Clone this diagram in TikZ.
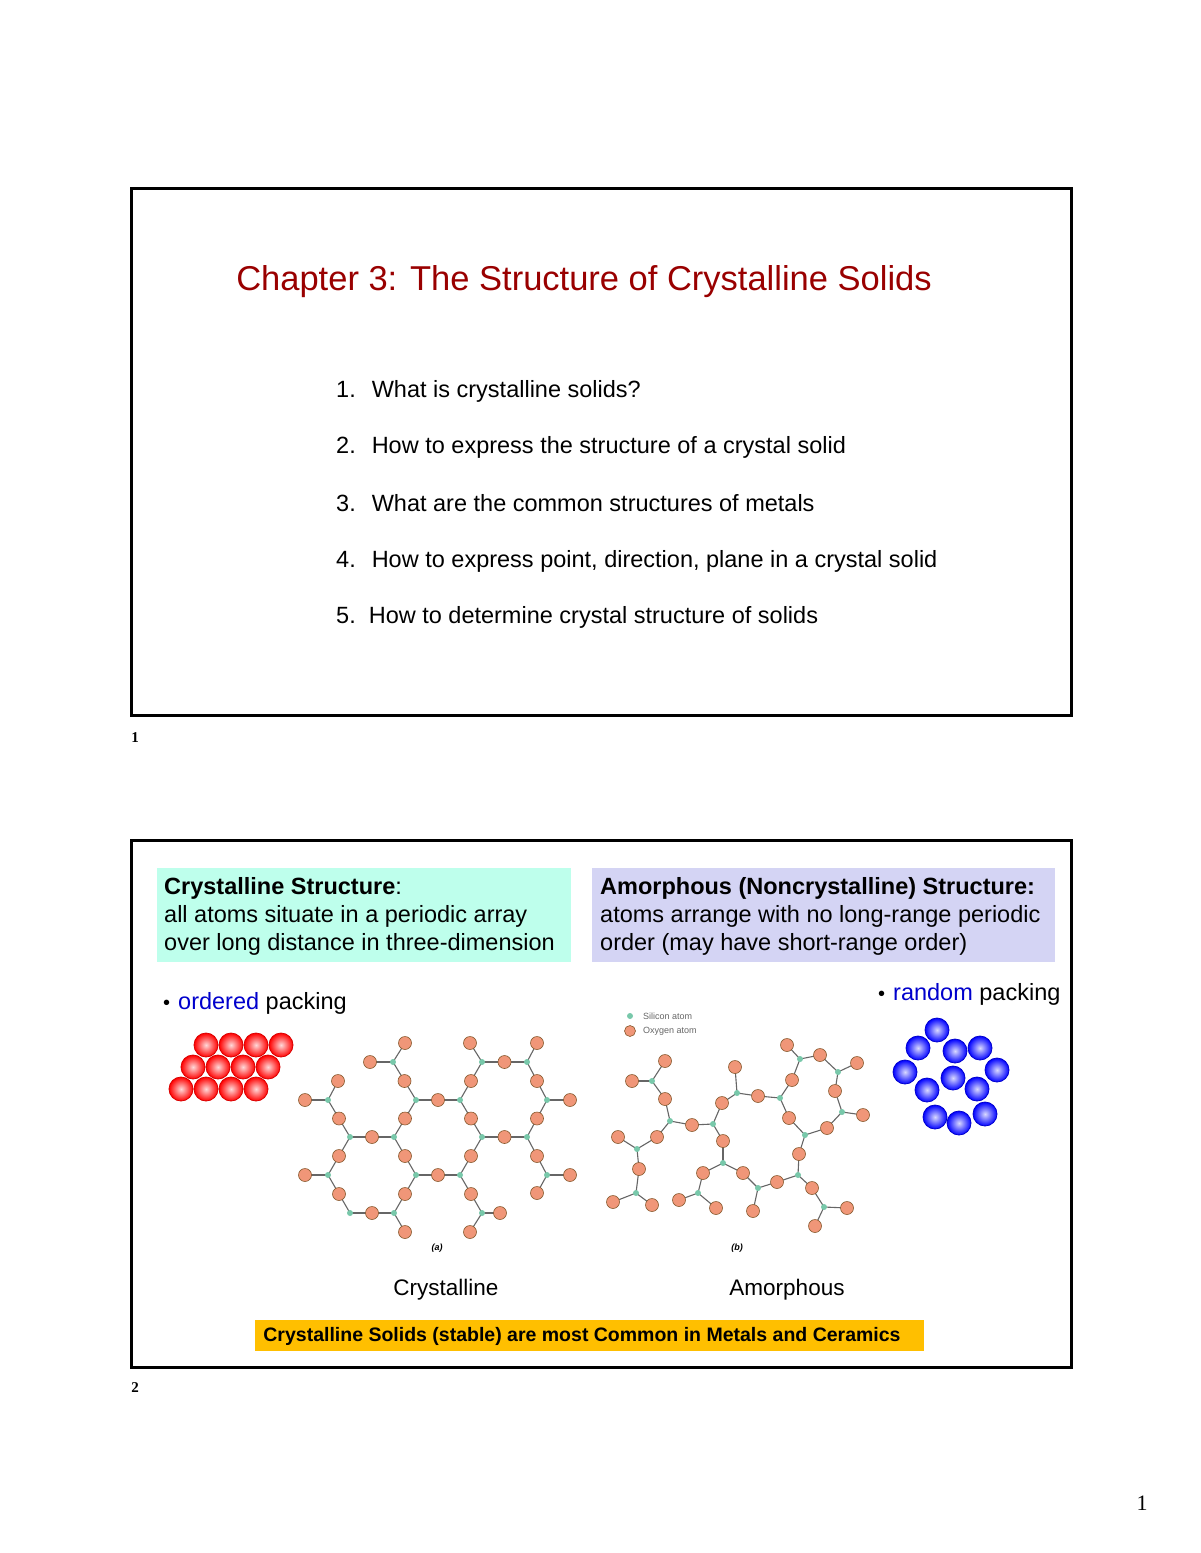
\documentclass[tikz,border=0pt]{standalone}
\usetikzlibrary{calc}
\usepackage{fontspec}
\setmainfont{Liberation Sans}
\newfontfamily\serifnum{Liberation Serif}
\definecolor{mint}{RGB}{190,255,236}
\definecolor{lav}{RGB}{212,212,244}
\definecolor{sicol}{RGB}{120,200,170}
\definecolor{oxcol}{RGB}{240,150,120}
\begin{document}
\begin{tikzpicture}[x=1pt,y=-1pt,
  frame/.style={draw=black,line width=2.6pt},
  txt/.style={anchor=west,inner sep=0pt,font=\fontsize{23.5}{26}\selectfont},
  si/.style={circle,fill=sicol,inner sep=0pt,minimum size=6pt},
  ox/.style={circle,draw=brown!70!black,fill=oxcol,line width=0.6pt,inner sep=0pt,minimum size=13pt},
  bond/.style={draw=black!60,line width=1.1pt},
  rball/.style={circle,shading=radial,inner color=red!15!white,outer color=red,draw=red!85!black,line width=0.8pt,inner sep=0pt,minimum size=24pt},
  bball/.style={circle,shading=radial,inner color=blue!15!white,outer color=blue,draw=blue!80!black,line width=0.8pt,inner sep=0pt,minimum size=24pt}]
\useasboundingbox (0,0) rectangle (1200,1553);
% slide 1
\node[frame,minimum width=940pt,minimum height=527pt,anchor=north west] (s1) at (130,187) {};
\node[font=\fontsize{34.5}{38}\selectfont,text=red!60!black] (title) at (584,282) {Chapter 3: The Structure of Crystalline Solids};
\node[txt] (n1) at (336,391) {1.\hspace{16pt}What is crystalline solids?};
\node[txt] (n2) at (336,447) {2.\hspace{16pt}How to express the structure of a crystal solid};
\node[txt] (n3) at (336,503) {3.\hspace{16pt}What are the common structures of metals};
\node[txt] (n4) at (336,561) {4.\hspace{16pt}How to express point, direction, plane in a crystal solid};
\node[txt] (n5) at (336,617) {5.\hspace{13pt}How to determine crystal structure of solids};
\node[font=\serifnum\bfseries\fontsize{15}{17}\selectfont] (p1) at (135,738) {1};
% slide 2
\node[frame,minimum width=940pt,minimum height=527pt,anchor=north west] (s2) at (130,839) {};
\node[fill=mint,minimum width=414pt,minimum height=94pt,anchor=north west] (cb) at (157,868) {};
\node[fill=lav,minimum width=463pt,minimum height=94pt,anchor=north west] (ab) at (592,868) {};
\node[txt] (c1) at (164,888) {\textbf{Crystalline Structure}:};
\node[txt] (c2) at (164,916) {all atoms situate in a periodic array};
\node[txt] (c3) at (164,944) {over long distance in three-dimension};
\node[txt] (a1) at (600,888) {\textbf{Amorphous (Noncrystalline) Structure:}};
\node[txt] (a2) at (600,916) {atoms arrange with no long-range periodic};
\node[txt] (a3) at (600,944) {order (may have short-range order)};
\node[txt] (b1) at (163,1003) {{\fontsize{20}{20}\selectfont\textbullet}\hspace{8pt}\textcolor{blue!80!black}{ordered} packing};
\node[txt] (b2) at (878,994) {{\fontsize{20}{20}\selectfont\textbullet}\hspace{8pt}\textcolor{blue!80!black}{random} packing};
% red balls
\foreach \x/\y [count=\i] in {206/1045,231/1045,256/1045,281/1045,193/1067,218/1067,243/1067,268/1067,181/1089,206/1089,231/1089,256/1089}
  \node[rball] (r\i) at (\x,\y) {};
% blue balls
\foreach \x/\y [count=\i] in {937/1030,918/1048,955/1051,980/1048,905/1072,953/1078,997/1070,927/1090,977/1089,935/1117,959/1123,985/1114}
  \node[bball] (bl\i) at (\x,\y) {};
% crystalline network
\foreach \n/\x/\y in {a/393/1062,b/482/1062,c/527/1062,d/328/1100,e/416/1100,f/460/1100,g/547/1100,h/350/1137,i/394/1137,j/482/1137,k/527/1137,l/328/1175,m/416/1175,n/460/1175,o/547/1175,p/350/1213,q/394/1213,r/482/1213}
  \coordinate (C\n) at (\x,\y);
\foreach \u/\v in {a/e,b/c,b/f,c/g,d/h,e/f,e/i,f/j,g/k,h/i,j/k,h/l,i/m,j/n,k/o,m/n,l/p,m/q,n/r,p/q}
  \draw[bond] (C\u) -- (C\v);
\foreach \u/\x/\y in {a/370/1062,a/405/1043,b/470/1043,c/537/1043,d/305/1100,d/338/1081,g/570/1100,l/305/1175,o/570/1175,o/537/1193,q/405/1232,r/500/1213,r/470/1232}
  {\draw[bond] (C\u) -- (\x,\y); \node[ox] at (\x,\y) {};}
\foreach \u/\v in {a/e,b/c,b/f,c/g,d/h,e/f,e/i,f/j,g/k,h/i,j/k,h/l,i/m,j/n,k/o,m/n,l/p,m/q,n/r,p/q}
  \node[ox] at ($(C\u)!0.5!(C\v)$) {};
\foreach \n in {a,b,c,d,e,f,g,h,i,j,k,l,m,n,o,p,q,r} \node[si] at (C\n) {};
\node[font=\itshape\bfseries\fontsize{9}{10}\selectfont] (la) at (437,1248) {(a)};
% amorphous network
\foreach \n/\x/\y in {1/652/1081,2/670/1121,3/713/1124,4/737/1093,5/780/1098,6/800/1059,7/838/1072,8/842/1112,9/805/1135,10/637/1149,11/636/1193,12/723/1163,13/698/1193,14/758/1188,15/798/1175,16/824/1207}
  \coordinate (S\n) at (\x,\y);
\foreach \x/\y/\u in {665/1061/1,632/1081/1,665/1099/1,665/1099/2,692/1125/2,692/1125/3,657/1137/2,657/1137/10,618/1137/10,639/1169/10,639/1169/11,613/1202/11,652/1205/11,735/1067/4,722/1103/4,722/1103/3,758/1096/4,758/1096/5,723/1141/3,723/1141/12,787/1045/6,820/1055/6,820/1055/7,857/1063/7,792/1080/6,792/1080/5,835/1091/7,835/1091/8,863/1115/8,789/1118/5,789/1118/9,827/1128/8,827/1128/9,799/1154/9,799/1154/15,703/1173/12,703/1173/13,743/1173/12,743/1173/14,777/1182/14,777/1182/15,679/1200/13,716/1208/13,753/1211/14,812/1188/15,812/1188/16,847/1208/16,815/1226/16}
  \draw[bond] (S\u) -- (\x,\y);
\foreach \x/\y in {665/1061,632/1081,665/1099,692/1125,657/1137,618/1137,639/1169,613/1202,652/1205,735/1067,722/1103,758/1096,723/1141,787/1045,820/1055,857/1063,792/1080,835/1091,863/1115,789/1118,827/1128,799/1154,703/1173,743/1173,777/1182,679/1200,716/1208,753/1211,812/1188,847/1208,815/1226}
  \node[ox] at (\x,\y) {};
\foreach \n in {1,...,16} \node[si] at (S\n) {};
\node[si] (lsi) at (630,1016) {};
\node[ox,minimum size=11pt] (lox) at (630,1031) {};
\node[anchor=west,inner sep=0pt,font=\fontsize{9}{10}\selectfont,text=black!60] (tsi) at (643,1016) {Silicon atom};
\node[anchor=west,inner sep=0pt,font=\fontsize{9}{10}\selectfont,text=black!60] (tox) at (643,1031) {Oxygen atom};
\node[font=\itshape\bfseries\fontsize{9}{10}\selectfont] (lb) at (737,1248) {(b)};
\node[font=\fontsize{22.5}{25}\selectfont] (cr) at (446,1290) {Crystalline};
\node[font=\fontsize{22.5}{25}\selectfont] (am) at (787,1290) {Amorphous};
\node[fill=orange!50!yellow,minimum width=669pt,minimum height=31pt,anchor=north west,inner sep=0pt] (yb) at (255,1320) {};
\node[font=\bfseries\fontsize{19.5}{21}\selectfont,inner sep=0pt] (yt) at (582,1336) {Crystalline Solids (stable) are most Common in Metals and Ceramics};
\node[font=\serifnum\bfseries\fontsize{15}{17}\selectfont] (p2) at (135,1388) {2};
\node[font=\serifnum\fontsize{22}{24}\selectfont] (pg) at (1142,1503) {1};
\end{tikzpicture}
\end{document}
